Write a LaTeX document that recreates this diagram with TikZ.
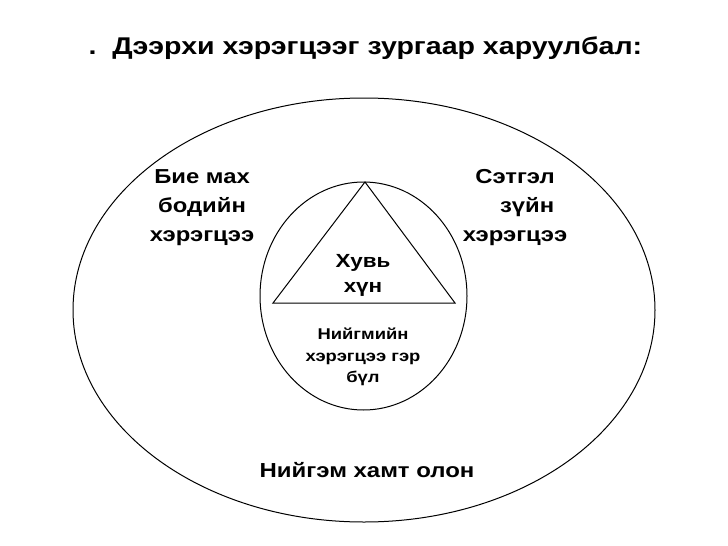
\documentclass[tikz,border=0pt]{standalone}
\usepackage{fontspec}
\setmainfont[FakeStretch=1.18]{Liberation Sans}
\usepackage{tikz}

\tikzset{
	lbl/.style={align=center, inner sep=0pt, font=\bfseries\fontsize{20.2}{29}\selectfont},
	inlbl/.style={align=center, inner sep=0pt, font=\bfseries\fontsize{19}{25}\selectfont},
	smlbl/.style={align=center, inner sep=0pt, font=\bfseries\fontsize{15.6}{21.5}\selectfont}
}

\begin{document}
\begin{tikzpicture}[x=1pt, y=-1pt, line width=1pt]
				\useasboundingbox (0, 0) rectangle (728, 546);
				\coordinate (O) at (364, 310);
				\coordinate (I) at (363.5, 296);
				\draw (O) ellipse[x radius=291, y radius=212];
				\draw (I) ellipse[x radius=103.5, y radius=114];
				\coordinate (T) at (365, 182);
				\coordinate (L) at (273, 303);
				\coordinate (R) at (455, 303);
				\draw (T) -- (L) -- (R) -- cycle;
				\node[anchor=base west, inner sep=0pt, font=\bfseries\fontsize{24.2}{28}\selectfont] (title) at (88, 54) {.\ \ Дээрхи хэрэгцээг зургаар харуулбал:};
				\node[lbl] (body) at (202, 208) {Бие мах\\бодийн\\хэрэгцээ};
				\node[lbl] (mind) at (515, 208) {Сэтгэл\\\hspace*{1.2em}зүйн\\хэрэгцээ};
				\node[inlbl] (self) at (363, 275) {Хувь\\хүн};
				\node[smlbl] (family) at (363, 357) {Нийгмийн\\хэрэгцээ гэр\\бүл};
				\node[lbl, font=\bfseries\fontsize{20.3}{24}\selectfont] (society) at (367, 470) {Нийгэм хамт олон};
			\end{tikzpicture}
\end{document}
